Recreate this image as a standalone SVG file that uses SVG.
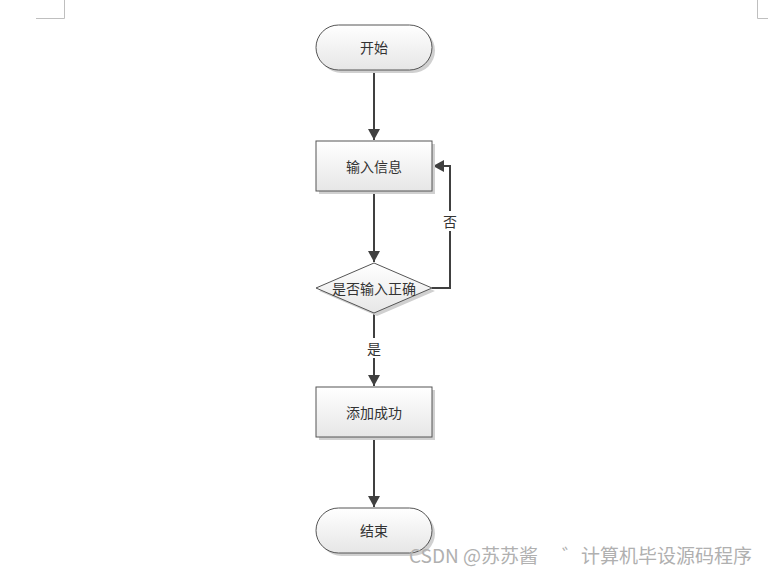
<svg xmlns="http://www.w3.org/2000/svg" width="768" height="575" viewBox="0 0 768 575">
<defs>
<linearGradient id="g" x1="0" y1="0" x2="0" y2="1">
<stop offset="0" stop-color="#ffffff"/>
<stop offset="1" stop-color="#e6e6e6"/>
</linearGradient>
<marker id="ah" markerWidth="12" markerHeight="12" refX="11" refY="6" orient="auto" markerUnits="userSpaceOnUse">
<path d="M0,0 L11,6 L0,12 Z" fill="#404040"/>
</marker>
<style>
.shape{fill:url(#g);stroke:#555555;stroke-width:1}
.shadow{fill:#d0d0d0;stroke:none}
.t{font-family:"Noto Sans CJK SC","Liberation Sans",sans-serif;font-size:14px;fill:#333333;text-anchor:middle;dominant-baseline:central}
.c{fill:none;stroke:#404040;stroke-width:2}
.corner{fill:none;stroke:#bfbfbf;stroke-width:1}
.wm{font-family:"Noto Sans CJK SC","Liberation Sans",sans-serif;font-size:19px;fill:#b0b0b0}
</style>
</defs>
<rect width="768" height="575" fill="#ffffff"/>
<g id="corners">
<path class="corner" d="M36,18.5 H64.5 V0"/>
<path class="corner" d="M757.5,0 V18.5 H768"/>
</g>
<g id="connectors">
<line class="c" x1="374" y1="70" x2="374" y2="140" marker-end="url(#ah)"/>
<line class="c" x1="374" y1="191" x2="374" y2="262" marker-end="url(#ah)"/>
<path class="c" d="M432,288 H450 V166 H433" marker-end="url(#ah)"/>
<rect x="443" y="211" width="14" height="20" fill="#ffffff"/>
<text class="t" x="450" y="221">否</text>
<line class="c" x1="374" y1="313" x2="374" y2="386" marker-end="url(#ah)"/>
<rect x="364" y="338" width="20" height="20" fill="#ffffff"/>
<text class="t" x="374" y="348">是</text>
<line class="c" x1="374" y1="437" x2="374" y2="507" marker-end="url(#ah)"/>
</g>
<g id="start">
<rect class="shadow" x="319" y="28" width="116" height="45" rx="22.5"/>
<rect class="shape" x="316" y="25" width="116" height="45" rx="22.5"/>
<text class="t" x="374" y="47">开始</text>
</g>
<g id="input">
<rect class="shadow" x="319" y="144" width="116" height="50"/>
<rect class="shape" x="316" y="141" width="116" height="50"/>
<text class="t" x="374" y="166">输入信息</text>
</g>
<g id="check">
<polygon class="shadow" points="377,266 435,291 377,316 319,291"/>
<polygon class="shape" points="374,263 432,288 374,313 316,288"/>
<text class="t" x="374" y="288">是否输入正确</text>
</g>
<g id="add">
<rect class="shadow" x="319" y="390" width="116" height="50"/>
<rect class="shape" x="316" y="387" width="116" height="50"/>
<text class="t" x="374" y="412">添加成功</text>
</g>
<g id="end">
<rect class="shadow" x="319" y="511" width="116" height="45" rx="22.5"/>
<rect class="shape" x="316" y="508" width="116" height="45" rx="22.5"/>
<text class="t" x="374" y="530">结束</text>
</g>
<g id="watermark">
<text class="wm" x="409" y="563">CSDN @苏苏酱</text>
<text class="wm" x="752" y="563" text-anchor="end">゛计算机毕设源码程序</text>
</g>
</svg>
